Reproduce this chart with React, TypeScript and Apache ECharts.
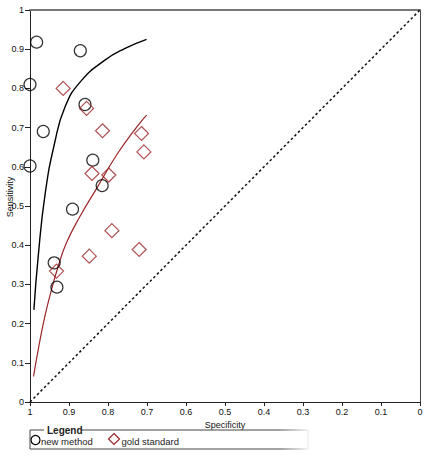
import React, { useEffect, useRef } from "react";
import * as echarts from "echarts";

// [specificity, sensitivity]
const newMethodPoints: number[][] = [
  [0.983, 0.918], [0.871, 0.896], [1.0, 0.81], [0.859, 0.759], [0.966, 0.69],
  [1.0, 0.602], [0.839, 0.617], [0.815, 0.552], [0.891, 0.492], [0.938, 0.355], [0.931, 0.293],
];
const goldStandardPoints: number[][] = [
  [0.915, 0.8], [0.855, 0.749], [0.814, 0.692], [0.714, 0.685], [0.708, 0.638],
  [0.841, 0.583], [0.798, 0.579], [0.79, 0.437], [0.848, 0.372], [0.72, 0.389], [0.932, 0.334],
];
const newMethodCurve: number[][] = [
  [0.99, 0.235], [0.979, 0.371], [0.961, 0.532], [0.937, 0.66], [0.91, 0.753],
  [0.87, 0.818], [0.808, 0.872], [0.756, 0.902], [0.701, 0.925],
];
const goldStandardCurve: number[][] = [
  [0.991, 0.065], [0.979, 0.133], [0.962, 0.218], [0.945, 0.286], [0.928, 0.345],
  [0.907, 0.405], [0.872, 0.473], [0.829, 0.545], [0.778, 0.63], [0.726, 0.702], [0.701, 0.732],
];
const chanceLine: number[][] = [[1, 0], [0, 1]];
const seriesNames = ["new method", "gold standard"];
const axisNames = { x: "Specificity", y: "Sensitivity" };

const FONT = "'Liberation Sans', Arial, Helvetica, sans-serif";
const RED = "#9b2527";

const fmt = (v: number) => (v === 0 ? "0" : v === 1 ? "1" : v.toFixed(1));

export default function App() {
  const ref = useRef<HTMLDivElement>(null);
  useEffect(() => {
    document.body.style.margin = "0";
    const chart = echarts.init(ref.current!, null, { renderer: "svg" });
    const baseAxis = {
      type: "value" as const,
      min: 0,
      max: 1,
      interval: 0.1,
      splitLine: { show: false },
    };
    chart.setOption({
      animation: false,
      backgroundColor: "#fff",
      textStyle: { fontFamily: FONT },
      grid: { left: 30, right: 16, top: 10, bottom: 56, containLabel: false },
      xAxis: [
        {
          ...baseAxis,
          inverse: true,
          position: "bottom",
          axisLine: { show: true, onZero: false, lineStyle: { color: "#222", width: 1 } },
          axisTick: { show: true, length: 4, lineStyle: { color: "#222" } },
          axisLabel: { formatter: fmt, fontSize: 9, color: "#111", margin: 5, fontFamily: FONT },
          name: axisNames.x,
          nameLocation: "middle",
          nameGap: 14,
          nameTextStyle: { fontSize: 9, color: "#111", fontFamily: FONT },
        },
        {
          ...baseAxis,
          inverse: true,
          position: "top",
          axisLine: { show: true, onZero: false, lineStyle: { color: "#777", width: 2 } },
          axisTick: { show: false },
          axisLabel: { show: false },
        },
      ],
      yAxis: [
        {
          ...baseAxis,
          position: "left",
          axisLine: { show: true, onZero: false, lineStyle: { color: "#222", width: 1 } },
          axisTick: { show: true, length: 5, lineStyle: { color: "#222" } },
          axisLabel: { formatter: fmt, fontSize: 9, color: "#111", margin: 6, fontFamily: FONT },
        },
        {
          ...baseAxis,
          position: "right",
          axisLine: { show: true, onZero: false, lineStyle: { color: "#444", width: 1 } },
          axisTick: { show: false },
          axisLabel: { show: false },
        },
      ],
      series: [
        {
          type: "line",
          data: chanceLine,
          showSymbol: false,
          symbol: "none",
          lineStyle: { color: "#111", width: 1.5, type: [2.5, 2.5] },
          silent: true,
          z: 1,
        },
        {
          type: "line",
          data: newMethodCurve,
          smooth: 0.5,
          symbol: "none",
          lineStyle: { color: "#000", width: 1.4 },
          z: 2,
        },
        {
          type: "line",
          data: goldStandardCurve,
          smooth: 0.5,
          symbol: "none",
          lineStyle: { color: RED, width: 1.2 },
          z: 2,
        },
        {
          name: seriesNames[0],
          type: "scatter",
          data: newMethodPoints,
          symbol: "circle",
          symbolSize: 12,
          clip: false,
          itemStyle: { color: "rgba(0,0,0,0)", borderColor: "#000", borderWidth: 1.2 },
          z: 3,
        },
        {
          name: seriesNames[1],
          type: "scatter",
          data: goldStandardPoints,
          symbol: "diamond",
          symbolSize: 14,
          clip: false,
          itemStyle: { color: "rgba(0,0,0,0)", borderColor: RED, borderWidth: 1.2 },
          z: 3,
        },
      ],
      graphic: [
        {
          type: "text",
          x: 10,
          y: 197,
          rotation: Math.PI / 2,
          style: {
            text: axisNames.y,
            fontSize: 9,
            fontFamily: FONT,
            fill: "#111",
            align: "center",
            verticalAlign: "middle",
          },
        },
        {
          type: "rect",
          z: 10,
          shape: { x: 30, y: 430, width: 278, height: 19 },
          style: { fill: "#fff", stroke: "#444", lineWidth: 1 },
        },
        {
          type: "rect",
          z: 11,
          shape: { x: 280, y: 425, width: 32, height: 30 },
          style: {
            fill: new echarts.graphic.LinearGradient(0, 0, 1, 0, [
              { offset: 0, color: "rgba(255,255,255,0)" },
              { offset: 1, color: "rgba(255,255,255,1)" },
            ]),
          },
        },
        {
          type: "rect",
          z: 11,
          shape: { x: 44, y: 426, width: 37, height: 8 },
          style: { fill: "#fff" },
        },
        {
          type: "text",
          z: 12,
          x: 47,
          y: 430.5,
          style: {
            text: "Legend",
            font: `bold 10px ${FONT}`,
            fill: "#222",
            verticalAlign: "middle",
          },
        },
        {
          type: "circle",
          z: 12,
          shape: { cx: 35.5, cy: 440, r: 4.5 },
          style: { fill: "none", stroke: "#000", lineWidth: 1.2 },
        },
        {
          type: "text",
          z: 12,
          x: 41,
          y: 441,
          style: { text: seriesNames[0], fontSize: 9.5, fontFamily: FONT, fill: "#222", verticalAlign: "middle" },
        },
        {
          type: "polygon",
          z: 12,
          shape: { points: [[114, 433.5], [119.5, 439], [114, 444.5], [108.5, 439]] },
          style: { fill: "none", stroke: RED, lineWidth: 1.2 },
        },
        {
          type: "text",
          z: 12,
          x: 121.5,
          y: 441,
          style: { text: seriesNames[1], fontSize: 9.5, fontFamily: FONT, fill: "#222", verticalAlign: "middle" },
        },
      ],
    });
    return () => chart.dispose();
  }, []);
  return <div ref={ref} style={{ width: 436, height: 458 }} />;
}
